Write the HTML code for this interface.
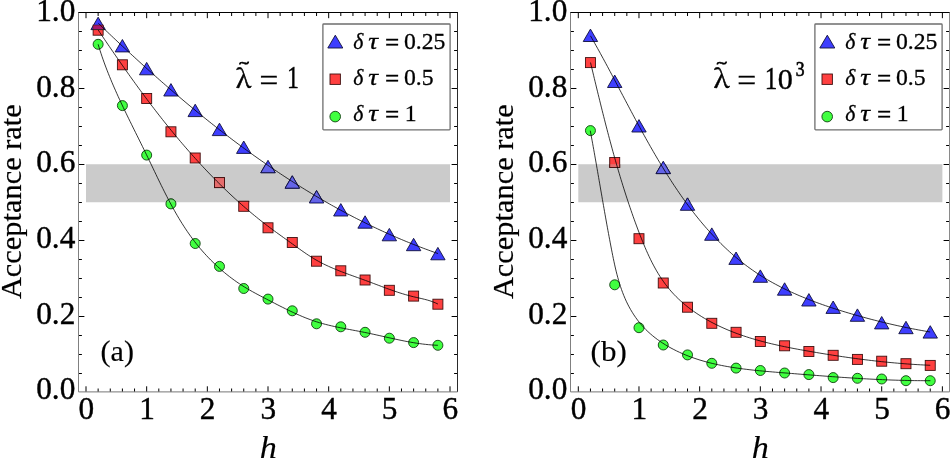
<!DOCTYPE html><html><head><meta charset="utf-8"><style>html,body{margin:0;padding:0;background:#fff;overflow:hidden;}svg{display:block;}text{font-family:"Liberation Serif","Times New Roman",serif;fill:#000;}.b{stroke:#000;stroke-width:0.4px;}</style></head><body>
<svg width="950" height="458" viewBox="0 0 950 458">
<rect width="950" height="458" fill="#fff"/>
<rect x="86" y="164.24" width="364.02" height="38.01" fill="#cbcbcb"/>
<clipPath id="bc0"><rect x="86" y="164.24" width="364.02" height="38.01"/></clipPath>
<g fill="#3e3eff" stroke="#10103c" stroke-width="0.9">
<path d="M98.13,17.2 L105.33,29.6 L90.93,29.6 Z"/>
<path d="M122.4,39.5 L129.6,51.9 L115.2,51.9 Z"/>
<path d="M146.67,62.4 L153.87,74.8 L139.47,74.8 Z"/>
<path d="M170.94,83.6 L178.14,96 L163.74,96 Z"/>
<path d="M195.21,104.2 L202.41,116.6 L188.01,116.6 Z"/>
<path d="M219.47,123.2 L226.67,135.6 L212.27,135.6 Z"/>
<path d="M243.74,141 L250.94,153.4 L236.54,153.4 Z"/>
<path d="M268.01,160.3 L275.21,172.7 L260.81,172.7 Z"/>
<path d="M292.28,175.8 L299.48,188.2 L285.08,188.2 Z"/>
<path d="M316.55,190.6 L323.75,203 L309.35,203 Z"/>
<path d="M340.81,203.6 L348.01,216 L333.61,216 Z"/>
<path d="M365.08,215.8 L372.28,228.2 L357.88,228.2 Z"/>
<path d="M389.35,228.4 L396.55,240.8 L382.15,240.8 Z"/>
<path d="M413.62,238.3 L420.82,250.7 L406.42,250.7 Z"/>
<path d="M437.89,247.4 L445.09,259.8 L430.69,259.8 Z"/>
</g>
<g fill="#ff4040" stroke="#401010" stroke-width="0.9">
<rect x="93.13" y="25.2" width="10" height="10"/>
<rect x="117.4" y="59.8" width="10" height="10"/>
<rect x="141.67" y="93.5" width="10" height="10"/>
<rect x="165.94" y="126.8" width="10" height="10"/>
<rect x="190.21" y="153" width="10" height="10"/>
<rect x="214.47" y="177.6" width="10" height="10"/>
<rect x="238.74" y="201.3" width="10" height="10"/>
<rect x="263.01" y="222.8" width="10" height="10"/>
<rect x="287.28" y="237.5" width="10" height="10"/>
<rect x="311.55" y="256.2" width="10" height="10"/>
<rect x="335.81" y="265.8" width="10" height="10"/>
<rect x="360.08" y="275" width="10" height="10"/>
<rect x="384.35" y="285.3" width="10" height="10"/>
<rect x="408.62" y="291.1" width="10" height="10"/>
<rect x="432.89" y="299.2" width="10" height="10"/>
</g>
<clipPath id="ov"><path d="M98.13,17.2 L105.33,29.6 L90.93,29.6 Z"/></clipPath>
<rect x="93.53" y="25.6" width="9.2" height="9.2" fill="#a8186e" clip-path="url(#ov)"/>
<path d="M92.43,29.6 H103.83" stroke="#222" stroke-width="0.9" fill="none"/>
<g fill="#40ff40" stroke="#104010" stroke-width="0.9">
<circle cx="98.13" cy="44.3" r="5"/>
<circle cx="122.4" cy="105.6" r="5"/>
<circle cx="146.67" cy="155.1" r="5"/>
<circle cx="170.94" cy="203.9" r="5"/>
<circle cx="195.21" cy="243.5" r="5"/>
<circle cx="219.47" cy="266.4" r="5"/>
<circle cx="243.74" cy="288.5" r="5"/>
<circle cx="268.01" cy="299.1" r="5"/>
<circle cx="292.28" cy="310.8" r="5"/>
<circle cx="316.55" cy="323.8" r="5"/>
<circle cx="340.81" cy="326.8" r="5"/>
<circle cx="365.08" cy="332.3" r="5"/>
<circle cx="389.35" cy="338.2" r="5"/>
<circle cx="413.62" cy="342.6" r="5"/>
<circle cx="437.89" cy="345.3" r="5"/>
</g>
<g clip-path="url(#bc0)">
<g fill="#6464e8" stroke="#10103c" stroke-width="0.9">
<path d="M268.01,160.3 L275.21,172.7 L260.81,172.7 Z"/>
<path d="M292.28,175.8 L299.48,188.2 L285.08,188.2 Z"/>
<path d="M316.55,190.6 L323.75,203 L309.35,203 Z"/>
<path d="M340.81,203.6 L348.01,216 L333.61,216 Z"/>
</g>
<g fill="#e66c6c" stroke="#401010" stroke-width="0.9">
<rect x="190.21" y="153" width="10" height="10"/>
<rect x="214.47" y="177.6" width="10" height="10"/>
<rect x="238.74" y="201.3" width="10" height="10"/>
</g>
<g fill="#70e670" stroke="#104010" stroke-width="0.9">
<circle cx="170.94" cy="203.9" r="5"/>
</g>
</g>
<g fill="none" stroke="#000" stroke-opacity="0.78" stroke-width="1">
<path d="M98.32,23.31L100.19,25.1L102.06,26.89L103.93,28.68L105.8,30.47L107.68,32.26L109.55,34.04L111.44,35.83L113.32,37.61L115.21,39.39L117.09,41.17L118.99,42.95L120.88,44.72L122.78,46.49L124.68,48.26L126.58,50.03L128.48,51.8L130.39,53.56L132.3,55.32L134.22,57.08L136.13,58.84L138.05,60.6L139.98,62.35L141.9,64.1L143.83,65.84L145.76,67.59L147.69,69.33L149.63,71.07L151.57,72.8L153.52,74.54L155.46,76.27L157.41,77.99L159.36,79.72L161.32,81.44L163.28,83.15L165.24,84.87L167.2,86.58L169.17,88.28L171.14,89.99L173.12,91.69L175.09,93.38L177.07,95.08L179.06,96.77L181.04,98.45L183.03,100.13L185.03,101.81L187.02,103.49L189.02,105.16L191.03,106.82L193.03,108.48L195.05,110.14L197.06,111.8L199.08,113.45L201.1,115.09L203.12,116.73L205.15,118.37L207.18,120L209.21,121.63L211.25,123.25L213.29,124.87L215.34,126.48L217.38,128.09L219.44,129.7L221.49,131.3L223.55,132.89L225.61,134.48L227.68,136.06L229.75,137.64L231.82,139.22L233.9,140.79L235.98,142.35L238.07,143.91L240.15,145.46L242.25,147.01L244.34,148.55L246.44,150.09L248.54,151.62L250.65,153.14L252.76,154.66L254.88,156.18L257,157.68L259.12,159.19L261.25,160.68L263.38,162.17L265.51,163.66L267.65,165.13L269.79,166.61L271.94,168.07L274.09,169.53L276.24,170.98L278.4,172.43L280.57,173.87L282.73,175.3L284.9,176.73L287.08,178.15L289.26,179.57L291.44,180.97L293.63,182.37L295.82,183.77L298.01,185.15L300.21,186.53L302.42,187.9L304.63,189.27L306.84,190.63L309.05,191.98L311.28,193.32L313.5,194.66L315.73,195.99L317.96,197.31L320.2,198.63L322.45,199.93L324.69,201.23L326.94,202.52L329.2,203.81L331.46,205.08L333.73,206.35L336,207.61L338.27,208.87L340.55,210.11L342.83,211.35L345.12,212.57L347.41,213.8L349.71,215.01L352.01,216.21L354.31,217.41L356.62,218.59L358.94,219.77L361.26,220.94L363.58,222.1L365.91,223.26L368.25,224.4L370.58,225.54L372.93,226.66L375.28,227.78L377.63,228.89L379.99,229.99L382.35,231.08L384.72,232.17L387.09,233.24L389.46,234.3L391.85,235.36L394.23,236.4L396.63,237.44L399.02,238.47L401.42,239.48L403.83,240.49L406.24,241.49L408.66,242.48L411.08,243.46L413.51,244.43L415.94,245.38L418.37,246.33L420.82,247.27L423.26,248.2L425.71,249.12L428.17,250.03L430.63,250.93L433.1,251.82L435.57,252.7L438.05,253.57"/>
<path d="M98.24,30.09L99.83,32.45L101.41,34.8L103,37.15L104.59,39.51L106.18,41.85L107.78,44.2L109.38,46.54L110.98,48.88L112.58,51.22L114.18,53.55L115.79,55.88L117.4,58.21L119.02,60.54L120.63,62.86L122.25,65.18L123.88,67.49L125.51,69.8L127.14,72.11L128.78,74.41L130.42,76.71L132.06,79.01L133.71,81.3L135.36,83.59L137.02,85.88L138.68,88.16L140.35,90.43L142.03,92.7L143.71,94.97L145.39,97.23L147.08,99.49L148.77,101.75L150.48,104L152.18,106.24L153.9,108.48L155.62,110.71L157.34,112.94L159.07,115.17L160.81,117.39L162.56,119.6L164.31,121.81L166.07,124.01L167.84,126.21L169.61,128.4L171.39,130.59L173.18,132.77L174.98,134.94L176.79,137.11L178.6,139.28L180.42,141.43L182.25,143.58L184.09,145.73L185.94,147.87L187.79,150L189.66,152.12L191.53,154.24L193.41,156.35L195.31,158.46L197.21,160.56L199.12,162.65L201.04,164.73L202.97,166.81L204.91,168.88L206.86,170.94L208.81,172.99L210.78,175.03L212.76,177.07L214.75,179.09L216.74,181.11L218.75,183.11L220.77,185.11L222.79,187.09L224.83,189.07L226.87,191.03L228.93,192.99L230.99,194.93L233.07,196.86L235.15,198.78L237.25,200.68L239.35,202.57L241.47,204.45L243.59,206.32L245.73,208.18L247.87,210.02L250.03,211.84L252.19,213.66L254.36,215.46L256.55,217.24L258.74,219.01L260.95,220.76L263.16,222.5L265.39,224.23L267.62,225.93L269.87,227.63L272.13,229.3L274.39,230.96L276.66,232.62L278.94,234.26L281.22,235.9L283.5,237.54L285.79,239.18L288.08,240.81L290.37,242.46L292.65,244.1L294.94,245.76L297.22,247.41L299.52,249.06L301.82,250.69L304.13,252.31L306.46,253.9L308.8,255.46L311.17,256.99L313.56,258.47L315.98,259.91L318.42,261.29L320.9,262.62L323.41,263.89L325.94,265.12L328.49,266.31L331.07,267.45L333.66,268.56L336.28,269.64L338.9,270.69L341.54,271.72L344.2,272.72L346.86,273.71L349.52,274.69L352.19,275.65L354.87,276.61L357.54,277.57L360.21,278.52L362.88,279.49L365.54,280.46L368.19,281.44L370.84,282.43L373.48,283.43L376.12,284.42L378.76,285.42L381.4,286.41L384.03,287.39L386.67,288.36L389.32,289.32L391.97,290.26L394.62,291.17L397.29,292.07L399.96,292.94L402.65,293.77L405.34,294.58L408.06,295.34L410.78,296.07L413.53,296.75L416.29,297.4L419.06,298.02L421.83,298.65L424.59,299.32L427.33,300.04L430.05,300.85L432.73,301.77L435.36,302.83L437.94,304.05"/>
<path d="M98.13,44.3L99.04,47.3L99.97,50.29L100.94,53.26L101.93,56.22L102.95,59.16L103.99,62.09L105.06,65.01L106.15,67.91L107.26,70.81L108.4,73.69L109.55,76.56L110.73,79.42L111.92,82.28L113.13,85.12L114.36,87.96L115.61,90.78L116.87,93.6L118.14,96.42L119.43,99.22L120.73,102.02L122.04,104.82L123.37,107.61L124.7,110.39L126.04,113.18L127.39,115.96L128.74,118.73L130.1,121.51L131.47,124.28L132.84,127.05L134.21,129.83L135.58,132.6L136.96,135.37L138.34,138.14L139.71,140.92L141.09,143.69L142.46,146.47L143.83,149.26L145.19,152.04L146.55,154.83L147.9,157.63L149.25,160.43L150.59,163.23L151.94,166.03L153.28,168.84L154.62,171.64L155.97,174.45L157.31,177.25L158.67,180.05L160.03,182.84L161.39,185.63L162.77,188.42L164.16,191.19L165.56,193.96L166.97,196.72L168.4,199.48L169.85,202.22L171.31,204.95L172.79,207.66L174.3,210.36L175.82,213.05L177.37,215.72L178.94,218.38L180.54,221.02L182.17,223.64L183.83,226.24L185.52,228.82L187.24,231.38L188.99,233.92L190.78,236.43L192.61,238.92L194.47,241.38L196.38,243.82L198.32,246.23L200.3,248.61L202.32,250.96L204.38,253.28L206.48,255.57L208.61,257.83L210.78,260.06L212.99,262.25L215.23,264.4L217.5,266.51L219.81,268.59L222.15,270.63L224.52,272.63L226.92,274.59L229.36,276.51L231.83,278.38L234.32,280.21L236.84,281.99L239.4,283.72L241.98,285.41L244.58,287.05L247.21,288.64L249.87,290.19L252.55,291.7L255.24,293.18L257.95,294.63L260.68,296.07L263.41,297.49L266.15,298.91L268.89,300.33L271.64,301.75L274.39,303.17L277.14,304.58L279.9,305.99L282.67,307.38L285.44,308.76L288.22,310.12L291.01,311.45L293.81,312.76L296.62,314.04L299.44,315.28L302.28,316.49L305.12,317.66L307.98,318.77L310.86,319.84L313.75,320.86L316.65,321.82L319.58,322.73L322.52,323.57L325.47,324.37L328.44,325.12L331.43,325.82L334.42,326.5L337.42,327.14L340.44,327.76L343.46,328.35L346.48,328.94L349.51,329.51L352.55,330.08L355.59,330.65L358.62,331.22L361.66,331.81L364.7,332.41L367.74,333.04L370.77,333.68L373.8,334.34L376.83,335.01L379.86,335.68L382.89,336.37L385.92,337.05L388.95,337.73L391.98,338.4L395.01,339.06L398.05,339.71L401.08,340.35L404.12,340.96L407.16,341.55L410.21,342.11L413.26,342.64L416.32,343.13L419.38,343.59L422.44,344L425.52,344.37L428.6,344.68L431.68,344.95L434.78,345.16L437.88,345.31"/>
</g>
<g fill="none" stroke-width="1">
<line x1="78" y1="12.5" x2="458" y2="12.5" stroke="#000"/>
<line x1="78.5" y1="12.5" x2="78.5" y2="391.9" stroke="#808080"/>
<line x1="457.5" y1="12.5" x2="457.5" y2="391.9" stroke="#2a2a2a"/>
<line x1="78.5" y1="391.9" x2="457.5" y2="391.9" stroke="#777"/>
</g>
<path d="M98.13,391.5 v-3 M98.13,13 v3 M110.27,391.5 v-3 M110.27,13 v3 M122.4,391.5 v-3 M122.4,13 v3 M134.54,391.5 v-3 M134.54,13 v3 M146.67,391.5 v-5.2 M146.67,13 v5.2 M158.8,391.5 v-3 M158.8,13 v3 M170.94,391.5 v-3 M170.94,13 v3 M183.07,391.5 v-3 M183.07,13 v3 M195.21,391.5 v-3 M195.21,13 v3 M207.34,391.5 v-5.2 M207.34,13 v5.2 M219.47,391.5 v-3 M219.47,13 v3 M231.61,391.5 v-3 M231.61,13 v3 M243.74,391.5 v-3 M243.74,13 v3 M255.88,391.5 v-3 M255.88,13 v3 M268.01,391.5 v-5.2 M268.01,13 v5.2 M280.14,391.5 v-3 M280.14,13 v3 M292.28,391.5 v-3 M292.28,13 v3 M304.41,391.5 v-3 M304.41,13 v3 M316.55,391.5 v-3 M316.55,13 v3 M328.68,391.5 v-5.2 M328.68,13 v5.2 M340.81,391.5 v-3 M340.81,13 v3 M352.95,391.5 v-3 M352.95,13 v3 M365.08,391.5 v-3 M365.08,13 v3 M377.22,391.5 v-3 M377.22,13 v3 M389.35,391.5 v-5.2 M389.35,13 v5.2 M401.48,391.5 v-3 M401.48,13 v3 M413.62,391.5 v-3 M413.62,13 v3 M425.75,391.5 v-3 M425.75,13 v3 M437.89,391.5 v-3 M437.89,13 v3 M86,391.5 v-5.2 M86,13 v5.2 M450.02,391.5 v-5.2 M450.02,13 v5.2 M79,373.5 h2.9 M457,373.5 h-2.9 M79,354.5 h2.9 M457,354.5 h-2.9 M79,335.5 h2.9 M457,335.5 h-2.9 M79,316.5 h5.4 M457,316.5 h-5.4 M79,297.5 h2.9 M457,297.5 h-2.9 M79,278.5 h2.9 M457,278.5 h-2.9 M79,259.5 h2.9 M457,259.5 h-2.9 M79,240.5 h5.4 M457,240.5 h-5.4 M79,221.5 h2.9 M457,221.5 h-2.9 M79,202.5 h2.9 M457,202.5 h-2.9 M79,183.5 h2.9 M457,183.5 h-2.9 M79,164.5 h5.4 M457,164.5 h-5.4 M79,145.5 h2.9 M457,145.5 h-2.9 M79,126.5 h2.9 M457,126.5 h-2.9 M79,107.5 h2.9 M457,107.5 h-2.9 M79,88.5 h5.4 M457,88.5 h-5.4 M79,69.5 h2.9 M457,69.5 h-2.9 M79,50.5 h2.9 M457,50.5 h-2.9 M79,31.5 h2.9 M457,31.5 h-2.9" stroke="#000" stroke-width="1" fill="none"/>
<text x="75.3" y="399.1" font-size="31.3" class="b" text-anchor="end">0.0</text>
<text x="75.3" y="323.5" font-size="31.3" class="b" text-anchor="end">0.2</text>
<text x="75.3" y="247.9" font-size="31.3" class="b" text-anchor="end">0.4</text>
<text x="75.3" y="172.3" font-size="31.3" class="b" text-anchor="end">0.6</text>
<text x="75.3" y="96.7" font-size="31.3" class="b" text-anchor="end">0.8</text>
<text x="75.3" y="21.1" font-size="31.3" class="b" text-anchor="end">1.0</text>
<text x="86.3" y="418.6" font-size="31.3" class="b" text-anchor="middle">0</text>
<text x="146.97" y="418.6" font-size="31.3" class="b" text-anchor="middle">1</text>
<text x="207.64" y="418.6" font-size="31.3" class="b" text-anchor="middle">2</text>
<text x="268.31" y="418.6" font-size="31.3" class="b" text-anchor="middle">3</text>
<text x="328.98" y="418.6" font-size="31.3" class="b" text-anchor="middle">4</text>
<text x="389.65" y="418.6" font-size="31.3" class="b" text-anchor="middle">5</text>
<text x="450.32" y="418.6" font-size="31.3" class="b" text-anchor="middle">6</text>
<text transform="translate(259.64,458.4) scale(1.1,1)" font-size="31" font-style="italic" stroke="#000" stroke-width="0.14">h</text>
<text transform="translate(20.9,299.1) rotate(-90)" font-size="30.4" stroke="#000" stroke-width="0.2">Acceptance rate</text>
<text transform="translate(100.55,360.66) scale(1.02,0.97)" font-size="29.5" stroke="#000" stroke-width="0.15">(a)</text>
<rect x="322.9" y="24" width="127.2" height="105.8" rx="0.8" fill="#fff" stroke="#6e6e6e" stroke-width="1.3"/>
<g stroke-width="0.9">
<g fill="#3e3eff" stroke="#10103c"><path d="M335.3,35.2 L342.8,48 L327.8,48 Z"/></g>
<g fill="#ff4040" stroke="#401010"><rect x="330" y="74" width="10.4" height="10.4"/></g>
<g fill="#40ff40" stroke="#104010"><circle cx="335.2" cy="116.6" r="5.3"/></g>
</g>
<text transform="translate(353.22,49.03) scale(0.93,0.98)" font-size="23.3" font-style="italic" stroke="#000" stroke-width="0.32">δ</text>
<text transform="translate(368.25,49.03) scale(1.17,0.95)" font-size="23.3" font-style="italic" stroke="#000" stroke-width="0.28">τ</text>
<text transform="translate(384.9,51.2) scale(0.97,0.94)" font-size="26" stroke="#000" stroke-width="0.31">=</text>
<text x="403.95" y="49.2" font-size="23.7" stroke="#000" stroke-width="0.3">0.25</text>
<text transform="translate(353.22,85.03) scale(0.93,0.98)" font-size="23.3" font-style="italic" stroke="#000" stroke-width="0.32">δ</text>
<text transform="translate(368.25,85.03) scale(1.17,0.95)" font-size="23.3" font-style="italic" stroke="#000" stroke-width="0.28">τ</text>
<text transform="translate(384.9,87.2) scale(0.97,0.94)" font-size="26" stroke="#000" stroke-width="0.31">=</text>
<text x="403.95" y="85.2" font-size="23.7" stroke="#000" stroke-width="0.3">0.5</text>
<text transform="translate(353.22,120.93) scale(0.93,0.98)" font-size="23.3" font-style="italic" stroke="#000" stroke-width="0.32">δ</text>
<text transform="translate(368.25,120.93) scale(1.17,0.95)" font-size="23.3" font-style="italic" stroke="#000" stroke-width="0.28">τ</text>
<text transform="translate(384.9,123.1) scale(0.97,0.94)" font-size="26" stroke="#000" stroke-width="0.31">=</text>
<text x="404.87" y="121.1" font-size="23.7" stroke="#000" stroke-width="0.3">1</text>
<text transform="translate(236,87.72) scale(0.84,0.82)" font-size="31" stroke="#000" stroke-width="0.72" style="font-family:'Noto Serif CJK SC','Liberation Serif',serif">λ</text>
<text transform="translate(239.15,75.07) scale(0.93,0.63)" font-size="31" stroke="#000" stroke-width="1.03">˜</text>
<text transform="translate(259.44,91.11) scale(0.97,0.95)" font-size="34.2" stroke="#000" stroke-width="0.42">=</text>
<text transform="translate(287,88.4) scale(0.75,1.01)" font-size="31.7" stroke="#000" stroke-width="0.45">1</text>
<rect x="578.3" y="164.24" width="364.08" height="38.01" fill="#cbcbcb"/>
<clipPath id="bc1"><rect x="578.3" y="164.24" width="364.08" height="38.01"/></clipPath>
<g fill="#3e3eff" stroke="#10103c" stroke-width="0.9">
<path d="M590.44,29.1 L597.64,41.5 L583.24,41.5 Z"/>
<path d="M614.71,75.1 L621.91,87.5 L607.51,87.5 Z"/>
<path d="M638.98,119.6 L646.18,132 L631.78,132 Z"/>
<path d="M663.25,161.2 L670.45,173.6 L656.05,173.6 Z"/>
<path d="M687.52,197.9 L694.72,210.3 L680.32,210.3 Z"/>
<path d="M711.8,227.9 L719,240.3 L704.6,240.3 Z"/>
<path d="M736.07,252 L743.27,264.4 L728.87,264.4 Z"/>
<path d="M760.34,269.9 L767.54,282.3 L753.14,282.3 Z"/>
<path d="M784.61,282.8 L791.81,295.2 L777.41,295.2 Z"/>
<path d="M808.88,293.6 L816.08,306 L801.68,306 Z"/>
<path d="M833.16,301 L840.36,313.4 L825.96,313.4 Z"/>
<path d="M857.43,308.9 L864.63,321.3 L850.23,321.3 Z"/>
<path d="M881.7,316.5 L888.9,328.9 L874.5,328.9 Z"/>
<path d="M905.97,321.3 L913.17,333.7 L898.77,333.7 Z"/>
<path d="M930.24,325.7 L937.44,338.1 L923.04,338.1 Z"/>
</g>
<g fill="#ff4040" stroke="#401010" stroke-width="0.9">
<rect x="585.44" y="57.6" width="10" height="10"/>
<rect x="609.71" y="157.5" width="10" height="10"/>
<rect x="633.98" y="233.7" width="10" height="10"/>
<rect x="658.25" y="278" width="10" height="10"/>
<rect x="682.52" y="302.2" width="10" height="10"/>
<rect x="706.8" y="318.3" width="10" height="10"/>
<rect x="731.07" y="327.3" width="10" height="10"/>
<rect x="755.34" y="336.5" width="10" height="10"/>
<rect x="779.61" y="340.8" width="10" height="10"/>
<rect x="803.88" y="346.5" width="10" height="10"/>
<rect x="828.16" y="350.3" width="10" height="10"/>
<rect x="852.43" y="354.4" width="10" height="10"/>
<rect x="876.7" y="356.2" width="10" height="10"/>
<rect x="900.97" y="358.7" width="10" height="10"/>
<rect x="925.24" y="360.4" width="10" height="10"/>
</g>
<g fill="#40ff40" stroke="#104010" stroke-width="0.9">
<circle cx="590.44" cy="130.6" r="5"/>
<circle cx="614.71" cy="284.8" r="5"/>
<circle cx="638.98" cy="327.7" r="5"/>
<circle cx="663.25" cy="345" r="5"/>
<circle cx="687.52" cy="354.9" r="5"/>
<circle cx="711.8" cy="363.3" r="5"/>
<circle cx="736.07" cy="368.1" r="5"/>
<circle cx="760.34" cy="370.5" r="5"/>
<circle cx="784.61" cy="373" r="5"/>
<circle cx="808.88" cy="374.6" r="5"/>
<circle cx="833.16" cy="377.6" r="5"/>
<circle cx="857.43" cy="378.3" r="5"/>
<circle cx="881.7" cy="379" r="5"/>
<circle cx="905.97" cy="380.7" r="5"/>
<circle cx="930.24" cy="380.7" r="5"/>
</g>
<g clip-path="url(#bc1)">
<g fill="#6464e8" stroke="#10103c" stroke-width="0.9">
<path d="M663.25,161.2 L670.45,173.6 L656.05,173.6 Z"/>
<path d="M687.52,197.9 L694.72,210.3 L680.32,210.3 Z"/>
</g>
<g fill="#e66c6c" stroke="#401010" stroke-width="0.9">
<rect x="609.71" y="157.5" width="10" height="10"/>
</g>
</g>
<g fill="none" stroke="#000" stroke-opacity="0.78" stroke-width="1">
<path d="M590.47,35.83L591.89,38.31L593.32,40.8L594.74,43.3L596.15,45.82L597.56,48.34L598.97,50.88L600.38,53.44L601.78,56L603.18,58.57L604.58,61.16L605.98,63.75L607.38,66.35L608.77,68.96L610.17,71.58L611.56,74.21L612.96,76.84L614.36,79.48L615.75,82.13L617.15,84.78L618.55,87.44L619.95,90.11L621.35,92.77L622.76,95.45L624.17,98.12L625.58,100.8L626.99,103.48L628.41,106.17L629.83,108.85L631.26,111.54L632.69,114.23L634.12,116.91L635.56,119.6L637.01,122.29L638.46,124.98L639.92,127.66L641.38,130.34L642.85,133.02L644.33,135.7L645.81,138.37L647.3,141.04L648.8,143.71L650.31,146.37L651.83,149.03L653.35,151.68L654.89,154.32L656.43,156.96L657.98,159.59L659.55,162.21L661.12,164.83L662.71,167.43L664.3,170.03L665.91,172.62L667.53,175.2L669.16,177.76L670.8,180.32L672.45,182.87L674.12,185.4L675.8,187.92L677.5,190.43L679.21,192.93L680.93,195.41L682.67,197.88L684.42,200.33L686.18,202.77L687.97,205.19L689.76,207.6L691.58,209.99L693.41,212.37L695.25,214.72L697.12,217.06L699,219.38L700.89,221.68L702.81,223.97L704.74,226.23L706.7,228.47L708.67,230.7L710.66,232.9L712.67,235.08L714.69,237.24L716.74,239.37L718.81,241.48L720.9,243.57L723.01,245.64L725.15,247.68L727.3,249.7L729.47,251.69L731.67,253.66L733.89,255.59L736.13,257.51L738.4,259.39L740.69,261.25L743,263.08L745.34,264.88L747.7,266.66L750.09,268.4L752.5,270.12L754.93,271.8L757.39,273.45L759.88,275.07L762.39,276.66L764.93,278.22L767.5,279.75L770.08,281.25L772.69,282.71L775.33,284.15L777.98,285.56L780.65,286.95L783.35,288.3L786.06,289.63L788.79,290.93L791.53,292.2L794.3,293.45L797.08,294.68L799.87,295.88L802.67,297.05L805.49,298.2L808.32,299.33L811.16,300.44L814.01,301.53L816.87,302.59L819.74,303.64L822.62,304.66L825.5,305.66L828.39,306.65L831.28,307.61L834.18,308.56L837.08,309.49L839.98,310.41L842.88,311.31L845.79,312.19L848.69,313.05L851.59,313.91L854.49,314.74L857.39,315.57L860.29,316.38L863.18,317.17L866.07,317.96L868.95,318.73L871.84,319.49L874.72,320.23L877.61,320.96L880.49,321.68L883.37,322.39L886.26,323.08L889.15,323.76L892.04,324.43L894.93,325.09L897.83,325.73L900.73,326.36L903.64,326.98L906.55,327.58L909.47,328.17L912.39,328.76L915.32,329.32L918.26,329.88L921.21,330.42L924.17,330.95L927.14,331.47L930.11,331.98"/>
<path d="M590.51,62.52L591.27,65.71L592.04,68.9L592.8,72.09L593.57,75.28L594.33,78.47L595.1,81.66L595.87,84.84L596.64,88.02L597.42,91.21L598.19,94.39L598.97,97.57L599.75,100.74L600.54,103.92L601.32,107.09L602.12,110.27L602.91,113.44L603.71,116.61L604.52,119.77L605.32,122.94L606.14,126.1L606.96,129.26L607.78,132.42L608.62,135.58L609.45,138.73L610.3,141.88L611.15,145.03L612.01,148.18L612.87,151.33L613.74,154.47L614.62,157.61L615.51,160.75L616.41,163.88L617.32,167.02L618.23,170.14L619.16,173.27L620.09,176.4L621.03,179.52L621.99,182.64L622.95,185.75L623.93,188.86L624.91,191.97L625.91,195.08L626.92,198.18L627.94,201.28L628.97,204.38L630.02,207.47L631.08,210.56L632.15,213.65L633.23,216.73L634.33,219.81L635.45,222.88L636.58,225.95L637.72,229.02L638.89,232.08L640.07,235.14L641.27,238.19L642.5,241.24L643.74,244.28L645.01,247.32L646.31,250.33L647.65,253.34L649.02,256.32L650.44,259.28L651.9,262.22L653.41,265.13L654.97,268.01L656.59,270.85L658.26,273.66L659.99,276.42L661.79,279.14L663.64,281.82L665.56,284.44L667.55,287L669.6,289.51L671.71,291.96L673.9,294.34L676.15,296.66L678.46,298.92L680.83,301.12L683.26,303.26L685.74,305.34L688.28,307.37L690.87,309.33L693.5,311.24L696.18,313.09L698.91,314.89L701.67,316.64L704.48,318.33L707.32,319.96L710.19,321.55L713.1,323.09L716.03,324.57L719,326.01L721.98,327.39L724.99,328.73L728.02,330.02L731.07,331.27L734.13,332.47L737.21,333.63L740.3,334.74L743.39,335.81L746.5,336.84L749.62,337.83L752.75,338.78L755.89,339.7L759.03,340.59L762.19,341.44L765.35,342.26L768.52,343.05L771.69,343.82L774.87,344.56L778.06,345.28L781.26,345.97L784.45,346.64L787.66,347.29L790.86,347.93L794.07,348.55L797.29,349.15L800.5,349.74L803.72,350.32L806.94,350.89L810.16,351.46L813.38,352.01L816.61,352.56L819.83,353.1L823.05,353.63L826.28,354.16L829.51,354.67L832.73,355.18L835.96,355.68L839.19,356.17L842.42,356.65L845.66,357.12L848.89,357.59L852.13,358.04L855.36,358.48L858.6,358.91L861.84,359.33L865.08,359.74L868.32,360.14L871.57,360.52L874.81,360.9L878.06,361.26L881.31,361.61L884.56,361.95L887.81,362.28L891.07,362.59L894.32,362.89L897.58,363.18L900.84,363.45L904.1,363.71L907.37,363.96L910.63,364.19L913.9,364.41L917.17,364.61L920.44,364.8L923.71,364.97L926.99,365.13L930.27,365.27"/>
<path d="M590.28,130.7L590.87,133.86L591.45,137.01L592.03,140.16L592.6,143.3L593.17,146.43L593.73,149.57L594.29,152.69L594.84,155.82L595.39,158.94L595.94,162.05L596.48,165.17L597.03,168.28L597.57,171.38L598.1,174.49L598.64,177.59L599.18,180.7L599.71,183.8L600.25,186.9L600.78,190L601.32,193.09L601.86,196.19L602.39,199.29L602.93,202.39L603.47,205.49L604.02,208.59L604.56,211.7L605.11,214.8L605.67,217.91L606.22,221.01L606.78,224.13L607.35,227.24L607.92,230.36L608.49,233.48L609.07,236.6L609.66,239.73L610.25,242.86L610.85,246L611.46,249.14L612.07,252.29L612.7,255.44L613.34,258.59L614,261.74L614.68,264.88L615.39,268.01L616.14,271.14L616.92,274.25L617.74,277.34L618.6,280.42L619.52,283.47L620.49,286.51L621.51,289.51L622.6,292.49L623.75,295.43L624.97,298.34L626.26,301.21L627.63,304.04L629.08,306.83L630.61,309.58L632.22,312.27L633.9,314.91L635.66,317.49L637.51,320.02L639.43,322.48L641.44,324.88L643.53,327.2L645.7,329.46L647.94,331.64L650.27,333.74L652.66,335.78L655.12,337.74L657.65,339.63L660.22,341.46L662.85,343.21L665.53,344.89L668.25,346.5L671.01,348.05L673.8,349.53L676.62,350.95L679.46,352.29L682.33,353.58L685.22,354.81L688.14,355.97L691.08,357.08L694.04,358.14L697.02,359.14L700.02,360.08L703.04,360.98L706.07,361.83L709.13,362.64L712.2,363.4L715.28,364.12L718.38,364.79L721.49,365.43L724.61,366.04L727.75,366.6L730.89,367.14L734.04,367.64L737.21,368.11L740.38,368.56L743.56,368.98L746.74,369.37L749.93,369.75L753.12,370.1L756.32,370.44L759.52,370.76L762.71,371.06L765.91,371.36L769.11,371.64L772.31,371.91L775.51,372.18L778.7,372.44L781.89,372.69L785.07,372.95L788.25,373.2L791.43,373.46L794.59,373.71L797.76,373.97L800.92,374.22L804.07,374.47L807.22,374.73L810.37,374.98L813.51,375.22L816.65,375.47L819.79,375.71L822.92,375.95L826.06,376.19L829.19,376.42L832.32,376.66L835.45,376.88L838.58,377.11L841.71,377.33L844.84,377.54L847.96,377.75L851.09,377.95L854.22,378.15L857.35,378.35L860.49,378.54L863.62,378.72L866.76,378.9L869.9,379.07L873.04,379.23L876.18,379.38L879.33,379.53L882.49,379.67L885.64,379.81L888.8,379.93L891.97,380.05L895.14,380.15L898.31,380.25L901.49,380.34L904.68,380.42L907.87,380.49L911.07,380.55L914.28,380.61L917.5,380.65L920.72,380.67L923.95,380.69L927.18,380.7L930.43,380.7"/>
</g>
<g fill="none" stroke-width="1">
<line x1="570" y1="12.5" x2="950" y2="12.5" stroke="#000"/>
<line x1="570.5" y1="12.5" x2="570.5" y2="391.9" stroke="#808080"/>
<line x1="949.5" y1="12.5" x2="949.5" y2="391.9" stroke="#8a8a8a"/>
<line x1="570.5" y1="391.9" x2="949.5" y2="391.9" stroke="#777"/>
</g>
<path d="M590.44,391.5 v-3 M590.44,13 v3 M602.57,391.5 v-3 M602.57,13 v3 M614.71,391.5 v-3 M614.71,13 v3 M626.84,391.5 v-3 M626.84,13 v3 M638.98,391.5 v-5.2 M638.98,13 v5.2 M651.12,391.5 v-3 M651.12,13 v3 M663.25,391.5 v-3 M663.25,13 v3 M675.39,391.5 v-3 M675.39,13 v3 M687.52,391.5 v-3 M687.52,13 v3 M699.66,391.5 v-5.2 M699.66,13 v5.2 M711.8,391.5 v-3 M711.8,13 v3 M723.93,391.5 v-3 M723.93,13 v3 M736.07,391.5 v-3 M736.07,13 v3 M748.2,391.5 v-3 M748.2,13 v3 M760.34,391.5 v-5.2 M760.34,13 v5.2 M772.48,391.5 v-3 M772.48,13 v3 M784.61,391.5 v-3 M784.61,13 v3 M796.75,391.5 v-3 M796.75,13 v3 M808.88,391.5 v-3 M808.88,13 v3 M821.02,391.5 v-5.2 M821.02,13 v5.2 M833.16,391.5 v-3 M833.16,13 v3 M845.29,391.5 v-3 M845.29,13 v3 M857.43,391.5 v-3 M857.43,13 v3 M869.56,391.5 v-3 M869.56,13 v3 M881.7,391.5 v-5.2 M881.7,13 v5.2 M893.84,391.5 v-3 M893.84,13 v3 M905.97,391.5 v-3 M905.97,13 v3 M918.11,391.5 v-3 M918.11,13 v3 M930.24,391.5 v-3 M930.24,13 v3 M578.3,391.5 v-5.2 M578.3,13 v5.2 M942.38,391.5 v-5.2 M942.38,13 v5.2 M571,373.5 h2.9 M949,373.5 h-2.9 M571,354.5 h2.9 M949,354.5 h-2.9 M571,335.5 h2.9 M949,335.5 h-2.9 M571,316.5 h5.4 M949,316.5 h-5.4 M571,297.5 h2.9 M949,297.5 h-2.9 M571,278.5 h2.9 M949,278.5 h-2.9 M571,259.5 h2.9 M949,259.5 h-2.9 M571,240.5 h5.4 M949,240.5 h-5.4 M571,221.5 h2.9 M949,221.5 h-2.9 M571,202.5 h2.9 M949,202.5 h-2.9 M571,183.5 h2.9 M949,183.5 h-2.9 M571,164.5 h5.4 M949,164.5 h-5.4 M571,145.5 h2.9 M949,145.5 h-2.9 M571,126.5 h2.9 M949,126.5 h-2.9 M571,107.5 h2.9 M949,107.5 h-2.9 M571,88.5 h5.4 M949,88.5 h-5.4 M571,69.5 h2.9 M949,69.5 h-2.9 M571,50.5 h2.9 M949,50.5 h-2.9 M571,31.5 h2.9 M949,31.5 h-2.9" stroke="#000" stroke-width="1" fill="none"/>
<text x="567.3" y="399.1" font-size="31.3" class="b" text-anchor="end">0.0</text>
<text x="567.3" y="323.5" font-size="31.3" class="b" text-anchor="end">0.2</text>
<text x="567.3" y="247.9" font-size="31.3" class="b" text-anchor="end">0.4</text>
<text x="567.3" y="172.3" font-size="31.3" class="b" text-anchor="end">0.6</text>
<text x="567.3" y="96.7" font-size="31.3" class="b" text-anchor="end">0.8</text>
<text x="567.3" y="21.1" font-size="31.3" class="b" text-anchor="end">1.0</text>
<text x="578.6" y="418.6" font-size="31.3" class="b" text-anchor="middle">0</text>
<text x="639.28" y="418.6" font-size="31.3" class="b" text-anchor="middle">1</text>
<text x="699.96" y="418.6" font-size="31.3" class="b" text-anchor="middle">2</text>
<text x="760.64" y="418.6" font-size="31.3" class="b" text-anchor="middle">3</text>
<text x="821.32" y="418.6" font-size="31.3" class="b" text-anchor="middle">4</text>
<text x="882" y="418.6" font-size="31.3" class="b" text-anchor="middle">5</text>
<text x="942.68" y="418.6" font-size="31.3" class="b" text-anchor="middle">6</text>
<text transform="translate(751.64,458.4) scale(1.1,1)" font-size="31" font-style="italic" stroke="#000" stroke-width="0.14">h</text>
<text transform="translate(512.9,299.1) rotate(-90)" font-size="30.4" stroke="#000" stroke-width="0.2">Acceptance rate</text>
<text transform="translate(590.62,360.89) scale(1.05,0.98)" font-size="29.5" stroke="#000" stroke-width="0.15">(b)</text>
<rect x="814.9" y="24" width="127.2" height="105.8" rx="0.8" fill="#fff" stroke="#6e6e6e" stroke-width="1.3"/>
<g stroke-width="0.9">
<g fill="#3e3eff" stroke="#10103c"><path d="M827.3,35.2 L834.8,48 L819.8,48 Z"/></g>
<g fill="#ff4040" stroke="#401010"><rect x="822" y="74" width="10.4" height="10.4"/></g>
<g fill="#40ff40" stroke="#104010"><circle cx="827.2" cy="116.6" r="5.3"/></g>
</g>
<text transform="translate(845.22,49.03) scale(0.93,0.98)" font-size="23.3" font-style="italic" stroke="#000" stroke-width="0.32">δ</text>
<text transform="translate(860.25,49.03) scale(1.17,0.95)" font-size="23.3" font-style="italic" stroke="#000" stroke-width="0.28">τ</text>
<text transform="translate(876.9,51.2) scale(0.97,0.94)" font-size="26" stroke="#000" stroke-width="0.31">=</text>
<text x="895.95" y="49.2" font-size="23.7" stroke="#000" stroke-width="0.3">0.25</text>
<text transform="translate(845.22,85.03) scale(0.93,0.98)" font-size="23.3" font-style="italic" stroke="#000" stroke-width="0.32">δ</text>
<text transform="translate(860.25,85.03) scale(1.17,0.95)" font-size="23.3" font-style="italic" stroke="#000" stroke-width="0.28">τ</text>
<text transform="translate(876.9,87.2) scale(0.97,0.94)" font-size="26" stroke="#000" stroke-width="0.31">=</text>
<text x="895.95" y="85.2" font-size="23.7" stroke="#000" stroke-width="0.3">0.5</text>
<text transform="translate(845.22,120.93) scale(0.93,0.98)" font-size="23.3" font-style="italic" stroke="#000" stroke-width="0.32">δ</text>
<text transform="translate(860.25,120.93) scale(1.17,0.95)" font-size="23.3" font-style="italic" stroke="#000" stroke-width="0.28">τ</text>
<text transform="translate(876.9,123.1) scale(0.97,0.94)" font-size="26" stroke="#000" stroke-width="0.31">=</text>
<text x="896.87" y="121.1" font-size="23.7" stroke="#000" stroke-width="0.3">1</text>
<text transform="translate(713.78,87.92) scale(0.87,0.81)" font-size="31" stroke="#000" stroke-width="0.71" style="font-family:'Noto Serif CJK SC','Liberation Serif',serif">λ</text>
<text transform="translate(716.74,75.47) scale(0.97,0.63)" font-size="31" stroke="#000" stroke-width="1">˜</text>
<text transform="translate(737.33,91.24) scale(0.98,0.92)" font-size="34.2" stroke="#000" stroke-width="0.42">=</text>
<text transform="translate(764.8,88.8) scale(0.79,0.98)" font-size="31.7" stroke="#000" stroke-width="0.45">1</text>
<text transform="translate(777.66,88.7) scale(0.95,0.96)" font-size="31.7" stroke="#000" stroke-width="0.42">0</text>
<text transform="translate(795.75,75.7) scale(0.84,0.98)" font-size="21" stroke="#000" stroke-width="0.66">3</text>
</svg></body></html>
